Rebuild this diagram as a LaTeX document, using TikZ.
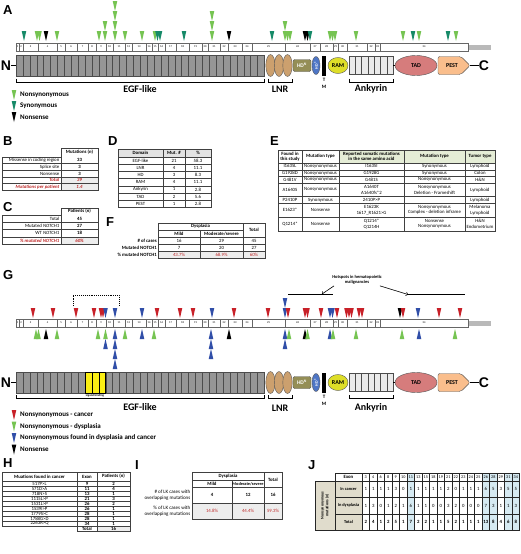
\documentclass[tikz,border=0pt]{standalone}
\usepackage{fontspec}
\setmainfont{Carlito}
\newfontfamily\arialfont{Liberation Sans}

% mutation classes
\definecolor{nsyngreen}{RGB}{118,196,82}
\definecolor{synteal}{RGB}{22,138,104}
\definecolor{cancred}{RGB}{200,32,40}
\definecolor{bothblue}{RGB}{48,78,168}
% protein domains
\definecolor{egfgray}{RGB}{150,150,150}
\definecolor{lnrtan}{RGB}{204,160,110}
\definecolor{hdnolive}{RGB}{148,142,86}
\definecolor{hdcblue}{RGB}{78,118,198}
\definecolor{ramyellow}{RGB}{222,222,40}
\definecolor{tadpink}{RGB}{214,124,124}
\definecolor{pestorange}{RGB}{250,190,140}
\definecolor{ankgray}{RGB}{234,234,234}
\definecolor{ligyellow}{RGB}{250,238,20}
% tables
\definecolor{redtxt}{RGB}{190,40,40}
\definecolor{hdrgreen}{RGB}{229,237,214}
\definecolor{hdrbeige}{RGB}{224,220,204}
\definecolor{colblue}{RGB}{214,234,242}

\tikzset{
  panel/.style={font=\arialfont\bfseries\fontsize{13}{13}\selectfont, inner sep=0pt, anchor=west},
  endlab/.style={font=\arialfont\bfseries\fontsize{14}{14}\selectfont, inner sep=0pt},
  domlab/.style={font=\bfseries\fontsize{10}{10}\selectfont, inner sep=0pt},
  inlab/.style={font=\bfseries\fontsize{6}{6}\selectfont, inner sep=0pt},
  legtxt/.style={font=\bfseries\fontsize{7}{7}\selectfont, inner sep=0pt, anchor=west},
  exonlab/.style={font=\fontsize{2.8}{3}\selectfont, inner sep=0pt},
  tabtxt/.style={font=\fontsize{4.8}{5.4}\selectfont, inner sep=0pt},
  tabbold/.style={font=\bfseries\fontsize{4.8}{5.4}\selectfont, inner sep=0pt},
  tabred/.style={font=\bfseries\itshape\fontsize{4.8}{5.4}\selectfont, inner sep=0pt, text=redtxt},
  tabline/.style={draw=black!75, line width=0.4pt},
  jline/.style={draw=black!85, line width=0.6pt},
  domspan/.style={line width=0.5pt},
}

% mutation marks: x, tip of first mark, level in the stack, colour
\newcommand{\mutdown}[4]{\fill[fill=#4] ({#1-2.3},{#2-10*#3}) -- ({#1+2.3},{#2-10*#3}) -- (#1,{#2-10*#3+10}) -- cycle;}
\newcommand{\mutup}[4]{\fill[fill=#4] ({#1-2.3},{#2+10*#3}) -- ({#1+2.3},{#2+10*#3}) -- (#1,{#2+10*#3-10}) -- cycle;}

% exon map, top edge at y=0
\newcommand{\exonbar}[1]{%
  \fill[gray!55] (468,2) rectangle (491,6.5);
  \foreach \a/\b/\n in {16/19/1, 19/23/2, 23/38/3, 38/57/4, 57/65/5, 65/77/6, 77/88/7,
      88/96/8, 96/106/9, 106/113/10, 113/125/11, 125/132/12, 132/146/13, 146/152/14,
      152/158/15, 158/165/16, 165/176/17, 176/189/18, 189/202/19, 202/208/20,
      208/220/21, 220/228/22, 228/242/23, 242/252/24, 252/285/25, 285/310/26,
      310/320/27, 320/333/28, 333/338/29, 338/347/30, 347/367/31, 367/375/32,
      375/380/33, 380/468/34} {
    \draw[draw=black!60, line width=0.35pt, fill=white] (\a,0) rectangle (\b,8);
    \node[exonlab] (#1ex\n) at ({(\a+\b)/2},4) {\n};
  }%
}

% NOTCH1 protein, top edge at y=0
\newcommand{\domainrow}[1]{%
  % N-terminal end
  \node[endlab] (#1nterm) at (6,10.5) {N};
  \draw[line width=0.9pt] (#1nterm.east) -- (16,10.5);
  % EGF-like repeats
  \foreach \i in {0,...,35}
    \draw[fill=egfgray, draw=black!70, line width=0.35pt] ({16+6.9*\i},0) rectangle ({16+6.9*(\i+1)},21);
  % LNR repeats
  \foreach \cx in {270.5,279,287.5}
    \draw[fill=lnrtan, draw=black!65, line width=0.4pt] (\cx,10.5) ellipse (4.7 and 11);
  % heterodimerization domains and TM
  \node[fill=hdnolive, draw=black!65, rounded corners=1.5pt, minimum width=18pt, minimum height=12pt,
        inner sep=0pt, font=\bfseries\fontsize{5.5}{5.5}\selectfont, text=white] (#1hdn) at (302,10.5) {HD\textsuperscript{N}};
  \draw[fill=hdcblue, draw=black!65] (316,10.5) ellipse (4 and 9);
  \node[rotate=90, inner sep=0pt, font=\bfseries\fontsize{4}{4}\selectfont, text=white] (#1hdc) at (316,10.5) {HD\textsuperscript{C}};
  \fill (322,0.5) rectangle (326,20.5);
  % RAM
  \draw[fill=ramyellow, draw=black!65] (338,10.5) ellipse (10 and 8);
  \node[inlab] (#1ram) at (338,10.5) {RAM};
  % ankyrin repeats
  \foreach \i in {0,...,6}
    \draw[fill=ankgray, draw=black!70, line width=0.35pt] ({349+6.3*\i},1.5) rectangle ({349+6.3*(\i+1)},19.5);
  \draw[line width=0.6pt] (393.1,10.5) -- (395,10.5);
  % TAD and PEST
  \draw[fill=tadpink, draw=black!65] (416,10.5) ellipse (21 and 10);
  \node[inlab] (#1tad) at (416,10.5) {TAD};
  \draw[fill=pestorange, draw=black!65, rounded corners=2pt] (438,1.5) -- (461,1.5) -- (470,10.5) -- (461,19.5) -- (438,19.5) -- cycle;
  \node[inlab] (#1pest) at (452,10.5) {PEST};
  % C-terminal end
  \node[endlab] (#1cterm) at (484,10.5) {C};
  \draw[line width=0.9pt] (470,10.5) -- (#1cterm.west);
}

\begin{document}
\begin{tikzpicture}[x=1pt, y=-1pt]
  \useasboundingbox (0,0) rectangle (520,554);
  \fill[white] (0,0) rectangle (520,554);

  % ================= Panel A =================
  \node[panel] (la) at (3,10) {A};
  \foreach \x/\l/\c in {24/1/synteal, 37/1/nsyngreen, 39.5/1/nsyngreen, 46/1/black, 57/1/nsyngreen,
      99/1/nsyngreen, 105/1/nsyngreen, 105/2/nsyngreen, 115/1/nsyngreen, 115/2/nsyngreen,
      115/3/nsyngreen, 115/4/nsyngreen, 125/1/nsyngreen, 142/1/nsyngreen, 155/1/nsyngreen,
      157.5/1/synteal, 160/1/synteal, 184/1/synteal, 212/1/nsyngreen, 212/2/nsyngreen,
      212/3/nsyngreen, 229/1/black, 272/1/synteal, 285/1/nsyngreen, 285/2/nsyngreen,
      287.5/1/nsyngreen, 290/1/nsyngreen, 305/1/black, 307.5/1/black, 310/1/synteal,
      330/1/nsyngreen, 332.5/1/nsyngreen, 335/1/nsyngreen, 356/1/nsyngreen, 403/1/nsyngreen,
      413/1/synteal, 419/1/nsyngreen, 448/1/synteal, 456/1/nsyngreen}
    {\mutdown{\x}{41}{\l}{\c}}

  \begin{scope}[shift={(0,43)}]
    \exonbar{a}
  \end{scope}
  \begin{scope}[shift={(0,55)}]
    \domainrow{a}
  \end{scope}

  % Domain spans.
  \draw[domspan] (16,78.5) -- (16,82) -- (264,82) -- (264,78.5);
  \draw[domspan] (268,78.5) -- (268,82) -- (292,82) -- (292,78.5);
  \draw[domspan] (349,78.5) -- (349,82) -- (393,82) -- (393,78.5);
  \node[domlab] (aegf) at (140,89) {EGF-like};
  \node[domlab] (alnr) at (280,89) {LNR};
  \node[domlab] (aank) at (371,89) {Ankyrin};
  \node[inlab, align=center, font=\bfseries\fontsize{5}{6.5}\selectfont] (atm) at (324,83.5) {T\\M};

  % Legend.
  \mutdown{14}{100}{1}{nsyngreen}
  \mutdown{14}{111}{1}{synteal}
  \mutdown{14}{122}{1}{black}
  \node[legtxt] (alg1) at (20,95) {Nonsynonymous};
  \node[legtxt] (alg2) at (20,106) {Synonymous};
  \node[legtxt] (alg3) at (20,117) {Nonsense};

  % ================= Panel B =================
  \node[panel] (lb) at (3,141) {B};
  \fill[gray!14] (61,176.8) rectangle (98,190.2);
  \draw[tabline] (61,148) rectangle (98,190.2);
  \draw[tabline] (2,157) rectangle (61,190.2);
  \foreach \y in {163.6,170.2,176.8,183.4} \draw[tabline] (2,\y) -- (98,\y);
  \node[tabbold] (bhead) at (79.5,152.5) {Mutations (\textit{n})};
  \foreach \lab/\val [count=\i] in {Missense in coding region/33, Splice site/3, Nonsense/3} {
    \node[tabtxt, anchor=east] (blab\i) at (59.5,{153.7+6.6*\i}) {\lab};
    \node[tabbold] (bval\i) at (79.5,{153.7+6.6*\i}) {\val};
  }
  \node[tabred, anchor=east] (blab4) at (59.5,180.1) {Total};
  \node[tabred] (bval4) at (79.5,180.1) {39};
  \node[tabred, anchor=east] (blab5) at (59.5,186.8) {Mutations per patient};
  \node[tabred] (bval5) at (79.5,186.8) {1.4};

  % ================= Panel C =================
  \node[panel] (lc) at (3,207) {C};
  \fill[gray!14] (61,236.9) rectangle (98,244.2);
  \draw[tabline] (61,208) rectangle (98,244.2);
  \draw[tabline] (2,215) rectangle (61,244.2);
  \foreach \y in {222.3,229.6,236.9} \draw[tabline] (2,\y) -- (98,\y);
  \node[tabbold] (chead) at (79.5,211.5) {Patients (\textit{n})};
  \node[tabtxt, anchor=east] (clab1) at (59.5,218.65) {Total};
  \node[tabbold] (cval1) at (79.5,218.65) {45};
  \node[tabtxt, anchor=east] (clab2) at (59.5,225.95) {Mutated \textit{NOTCH1}};
  \node[tabbold] (cval2) at (79.5,225.95) {27};
  \node[tabtxt, anchor=east] (clab3) at (59.5,233.25) {WT \textit{NOTCH1}};
  \node[tabbold] (cval3) at (79.5,233.25) {18};
  \node[tabred, anchor=east] (clab4) at (59.5,240.55) {\% mutated NOTCH1};
  \node[tabred] (cval4) at (79.5,240.55) {60\%};

  % ================= Panel D =================
  \node[panel] (ld) at (108,141) {D};
  \fill[gray!22] (118,149) rectangle (211,157);
  \draw[tabline] (118,149) rectangle (211,207.4);
  \foreach \k in {0,...,6} \draw[tabline] (118,{157+7.2*\k}) -- (211,{157+7.2*\k});
  \draw[tabline] (163,149) -- (163,207.4);
  \draw[tabline] (185,149) -- (185,207.4);
  \node[tabbold] (dh1) at (140.5,153) {Domain};
  \node[tabbold] (dh2) at (174,153) {Mut. \#};
  \node[tabbold] (dh3) at (198,153) {\%};
  \foreach \dom/\nm/\pc [count=\i] in {EGF-like/21/58.3, LNR/4/11.1, HD/3/8.3, RAM/4/11.1,
      Ankyrin/1/2.8, TAD/2/5.6, PEST/1/2.8} {
    \node[tabtxt] (ddom\i) at (140.5,{153.4+7.2*\i}) {\dom};
    \node[tabtxt] (dnum\i) at (174,{153.4+7.2*\i}) {\nm};
    \node[tabtxt] (dpc\i) at (198,{153.4+7.2*\i}) {\pc};
  }

  % ================= Panel E =================
  \node[panel] (le) at (270,141) {E};
  \fill[hdrgreen] (339,150) rectangle (495,163);
  \draw[tabline] (278,150) rectangle (495,231);
  \foreach \y in {163,169.7,176.4,183.1,196.5,203.2,217} \draw[tabline] (278,\y) -- (495,\y);
  \foreach \x in {302,339,404,465} \draw[tabline] (\x,150) -- (\x,231);
  \node[tabbold, align=center] (eh1) at (290,156.5) {Found in\\this study};
  \node[tabbold] (eh2) at (320.5,156.5) {Mutation type};
  \node[tabbold, align=center] (eh3) at (371.5,156.5) {Reported somatic mutations\\in the same amino acid};
  \node[tabbold] (eh4) at (434.5,156.5) {Mutation type};
  \node[tabbold] (eh5) at (480,156.5) {Tumor type};
  \foreach \fa/\ma/\ra/\mb/\ta/\yc [count=\i] in {I1635L/Nonsynonymous/I1635I/Synonymous/Lymphoid/166.35,
      G1928D/Nonsynonymous/G1928G/Synonymous/Colon/173.05,
      G481V/Nonsynonymous/G481S/Nonsynonymous/H\&N/179.75} {
    \node[tabtxt] (ea\i) at (290,\yc) {\fa};
    \node[tabtxt] (eb\i) at (320.5,\yc) {\ma};
    \node[tabtxt] (ec\i) at (371.5,\yc) {\ra};
    \node[tabtxt] (ed\i) at (434.5,\yc) {\mb};
    \node[tabtxt] (ee\i) at (480,\yc) {\ta};
  }
  \node[tabtxt] (ea4) at (290,189.8) {A1640S};
  \node[tabtxt] (eb4) at (320.5,189.8) {Nonsynonymous};
  \node[tabtxt, align=center] (ec4) at (371.5,189.8) {A1640T\\A1640fs*2};
  \node[tabtxt, align=center] (ed4) at (434.5,189.8) {Nonsynonymous\\Deletion - Frameshift};
  \node[tabtxt] (ee4) at (480,189.8) {Lymphoid};
  \node[tabtxt] (ea5) at (290,199.85) {P2410P};
  \node[tabtxt] (eb5) at (320.5,199.85) {Synonymous};
  \node[tabtxt] (ec5) at (371.5,199.85) {2410P>P};
  \node[tabtxt] (ee5) at (480,199.85) {Lymphoid};
  \node[tabtxt] (ea6) at (290,210.1) {E1623*};
  \node[tabtxt] (eb6) at (320.5,210.1) {Nonsense};
  \node[tabtxt, align=center] (ec6) at (371.5,210.1) {E1623K\\1617\_R1621>G};
  \node[tabtxt, align=center] (ed6) at (434.5,210.1) {Nonsynonymous\\Complex - deletion inframe};
  \node[tabtxt, align=center] (ee6) at (480,210.1) {Melanoma\\Lymphoid};
  \node[tabtxt] (ea7) at (290,224) {Q1214*};
  \node[tabtxt] (eb7) at (320.5,224) {Nonsense};
  \node[tabtxt, align=center] (ec7) at (371.5,224) {Q1214*\\Q1214H};
  \node[tabtxt, align=center] (ed7) at (434.5,224) {Nonsense\\Nonsynonymous};
  \node[tabtxt, align=center] (ee7) at (480,224) {H\&N\\Endometrium};

  % ================= Panel F =================
  \node[panel] (lf) at (106,222) {F};
  \fill[gray!14] (158,251.5) rectangle (265,258.5);
  \draw[tabline] (158,223) rectangle (265,258.5);
  \draw[tabline] (158,230) -- (243,230);
  \foreach \y in {237.5,244.5,251.5} \draw[tabline] (158,\y) -- (265,\y);
  \draw[tabline] (200,230) -- (200,258.5);
  \draw[tabline] (243,223) -- (243,258.5);
  \node[tabbold] (fh1) at (200.5,226.5) {Dysplasia};
  \node[tabbold] (fh2) at (179,233.8) {Mild};
  \node[tabbold] (fh3) at (221.5,233.8) {Moderate/severe};
  \node[tabbold] (fh4) at (254,230.3) {Total};
  \foreach \lab/\va/\vb/\vc [count=\i] in {\# of cases/16/29/45, Mutated NOTCH1/7/20/27} {
    \node[tabbold, anchor=east] (flab\i) at (157,{234+7*\i}) {\lab};
    \node[tabtxt] (fa\i) at (179,{234+7*\i}) {\va};
    \node[tabtxt] (fb\i) at (221.5,{234+7*\i}) {\vb};
    \node[tabtxt] (fc\i) at (254,{234+7*\i}) {\vc};
  }
  \node[tabbold, anchor=east] (flab3) at (157,255) {\% mutated NOTCH1};
  \node[tabtxt, text=redtxt] (fa3) at (179,255) {43.7\%};
  \node[tabtxt, text=redtxt] (fb3) at (221.5,255) {68.9\%};
  \node[tabtxt, text=redtxt] (fc3) at (254,255) {60\%};

  % ================= Panel G =================
  \node[panel] (lg) at (3,275) {G};
  % Ligand-binding exons.
  \draw[densely dotted, line width=0.9pt] (73,306) -- (73,295) -- (119,295) -- (119,306);
  % Hotspots.
  \node[font=\bfseries\fontsize{4.5}{5.4}\selectfont, inner sep=0pt, align=center] (hot) at (357,279.5)
    {Hotspots in hematopoietic\\malignancies};
  \coordinate (hotl) at (322,294);
  \coordinate (hotr) at (408,294.5);
  \draw[->, line width=0.6pt] ([shift={(2,1.5)}]hot.south west) -- (hotl);
  \draw[->, line width=0.6pt] ([shift={(-2,1.5)}]hot.south east) -- (hotr);
  \draw[line width=0.7pt] (288,294) -- (333,294);
  \draw[line width=0.7pt] (407,294.5) -- (465,294.5);

  % Mutations in cancer (above the exon map).
  \foreach \x/\l/\c in {33/1/cancred, 53/1/cancred, 76/1/cancred, 94/1/cancred, 101/1/cancred,
      103/1/cancred, 105.5/1/bothblue, 115/1/bothblue, 142/1/bothblue, 157/1/cancred,
      180/1/cancred, 193/1/cancred, 212/1/bothblue, 234/1/cancred, 268/1/cancred,
      285/1/bothblue, 285/2/bothblue, 288/1/cancred, 305/1/cancred, 307.5/1/cancred,
      321/1/cancred, 330/1/bothblue, 332.5/1/bothblue, 337/1/cancred, 346.5/1/cancred,
      349/1/cancred, 351.5/1/cancred, 359/1/cancred, 362/1/cancred, 400/1/black,
      403/1/cancred, 418/1/bothblue, 439/1/cancred, 460/1/cancred}
    {\mutdown{\x}{318}{\l}{\c}}
  % Mutations in dysplasia (below the exon map).
  \foreach \x/\l/\c in {36/1/nsyngreen, 38.5/1/nsyngreen, 46/1/black, 57/1/nsyngreen,
      98/1/nsyngreen, 105.5/1/nsyngreen, 105.5/2/bothblue, 115/1/bothblue, 115/2/bothblue,
      115/3/bothblue, 115/4/bothblue, 125/1/nsyngreen, 142/1/bothblue, 154/1/nsyngreen,
      211/1/bothblue, 211/2/bothblue, 211/3/bothblue, 229/1/black, 285/1/bothblue,
      285/2/bothblue, 289/1/nsyngreen, 305/1/black, 307.5/1/nsyngreen, 330/1/bothblue,
      333/1/nsyngreen, 356/1/nsyngreen, 402/1/nsyngreen, 419/1/bothblue, 455/1/nsyngreen}
    {\mutup{\x}{329}{\l}{\c}}

  \begin{scope}[shift={(0,319)}]
    \exonbar{g}
  \end{scope}
  \begin{scope}[shift={(0,372)}]
    \domainrow{g}
    \foreach \i in {10,11,12}
      \draw[fill=ligyellow, line width=0.6pt] ({16+6.9*\i},0) rectangle ({16+6.9*(\i+1)},21);
  \end{scope}

  % Domain spans.
  \draw[domspan] (16,395) -- (16,398.5) -- (264,398.5) -- (264,395);
  \draw[domspan] (268,395) -- (268,398.5) -- (292,398.5) -- (292,395);
  \draw[domspan] (349,395) -- (349,398.5) -- (393,398.5) -- (393,395);
  \node[font=\bfseries\fontsize{3}{3}\selectfont, inner sep=0pt] (glig) at (95,395.8) {Ligand binding};
  \node[domlab] (gegf) at (140,407.5) {EGF-like};
  \node[domlab] (glnr) at (280,408) {LNR};
  \node[domlab] (gank) at (371,408) {Ankyrin};
  \node[inlab, align=center, font=\bfseries\fontsize{5}{6.5}\selectfont] (gtm) at (324,400.5) {T\\M};

  % Legend.
  \mutdown{14}{420}{1}{cancred}
  \mutdown{14}{431.5}{1}{nsyngreen}
  \mutdown{14}{443}{1}{bothblue}
  \mutdown{14}{454.5}{1}{black}
  \node[legtxt] (glg1) at (20,415) {Nonsynonymous - cancer};
  \node[legtxt] (glg2) at (20,426.5) {Nonsynonymous - dysplasia};
  \node[legtxt] (glg3) at (20,438) {Nonsynonymous found in dysplasia and cancer};
  \node[legtxt] (glg4) at (20,449.5) {Nonsense};

  % ================= Panel H =================
  \node[panel] (lh) at (3,463) {H};
  \fill[gray!14] (97,526) rectangle (130,531);
  \draw[tabline] (2,472) rectangle (130,526);
  \draw[tabline] (77,526) rectangle (130,531);
  \foreach \k in {0,...,8} \draw[tabline] (2,{481+5*\k}) -- (130,{481+5*\k});
  \draw[tabline] (77,472) -- (77,531);
  \draw[tabline] (97,472) -- (97,531);
  \node[tabbold] (hh1) at (39.5,476.5) {Muations found in cancer};
  \node[tabbold] (hh2) at (87,476.5) {Exon};
  \node[tabbold] (hh3) at (113.5,476.5) {Patients (\textit{n})};
  \foreach \mu/\ex/\pt [count=\i] in {517P>L/9/2, 571D>A/11/4, 718N>S/13/1, 1115L>P/21/3,
      1531L>P/26/2, 1539I>P/26/1, 1779S>C/28/1, 1788G>D/28/1, 2263R>Q/34/1} {
    \node[tabtxt] (hmu\i) at (39.5,{478.5+5*\i}) {\mu};
    \node[tabbold] (hex\i) at (87,{478.5+5*\i}) {\ex};
    \node[tabbold] (hpt\i) at (113.5,{478.5+5*\i}) {\pt};
  }
  \node[tabbold] (htot) at (87,528.5) {Total};
  \node[tabbold] (htotn) at (113.5,528.5) {16};

  % ================= Panel I =================
  \node[panel] (li) at (135,465) {I};
  \fill[gray!14] (192,503) rectangle (282,519);
  \draw[tabline] (192,472) rectangle (282,519);
  \draw[tabline] (192,480) -- (264,480);
  \foreach \y in {487.5,503} \draw[tabline] (192,\y) -- (282,\y);
  \draw[tabline] (232,480) -- (232,519);
  \draw[tabline] (264,472) -- (264,519);
  \node[tabbold] (ih1) at (228,476) {Dysplasia};
  \node[tabbold] (ih2) at (212,483.8) {Mild};
  \node[tabbold, font=\bfseries\fontsize{4.3}{5}\selectfont] (ih3) at (248,483.8) {Moderate/severe};
  \node[tabbold] (ih4) at (273,479.8) {Total};
  \node[tabtxt, align=right, anchor=east, font=\fontsize{5}{5.6}\selectfont] (ilab1) at (190.5,495.3)
    {\# of LK cases with\\overlapping mutations};
  \node[tabtxt, align=right, anchor=east, font=\fontsize{5}{5.6}\selectfont] (ilab2) at (190.5,511)
    {\% of LK cases with\\overlapping mutations};
  \node[tabbold] (ia1) at (212,495.3) {4};
  \node[tabbold] (ib1) at (248,495.3) {12};
  \node[tabbold] (ic1) at (273,495.3) {16};
  \node[tabtxt, text=redtxt] (ia2) at (212,511) {14.8\%};
  \node[tabtxt, text=redtxt] (ib2) at (248,511) {44.4\%};
  \node[tabtxt, text=redtxt] (ic2) at (273,511) {59.3\%};

  % ================= Panel J =================
  \node[panel] (lj) at (308,465) {J};
  \fill[hdrbeige] (315,481) rectangle (362,530);
  \foreach \i in {6,16,17,19,20} \fill[colblue] ({362+7.5*\i},473) rectangle ({362+7.5*(\i+1)},530);
  \draw[jline] (335,473) rectangle (519.5,530);
  \draw[jline] (315,481) rectangle (335,530);
  \foreach \y in {481,497,514} \draw[jline] (335,\y) -- (519.5,\y);
  \draw[jline] (362,473) -- (362,530);
  \foreach \i in {1,...,20} \draw[jline] ({362+7.5*\i},473) -- ({362+7.5*\i},530);
  \node[tabbold] (jexon) at (348.5,477) {Exon};
  \node[rotate=90, align=center, inner sep=0pt, font=\bfseries\fontsize{4}{4.8}\selectfont] (jrot) at (325,505.5)
    {Nonsynonymous\\mutations (\textit{n})};
  \node[tabbold, font=\bfseries\fontsize{4.4}{5}\selectfont] (jrow1) at (348.5,489) {In cancer};
  \node[tabbold, font=\bfseries\fontsize{4.4}{5}\selectfont] (jrow2) at (348.5,505.5) {In dysplasia};
  \node[tabbold, font=\bfseries\fontsize{4.4}{5}\selectfont] (jrow3) at (348.5,522) {Total};
  \foreach \e/\ca/\da/\ta [count=\i from 0] in {3/1/1/2, 4/1/3/4, 6/1/0/1, 8/1/1/2, 9/3/2/5,
      10/0/1/1, 11/1/6/7, 13/1/1/2, 15/1/1/2, 18/1/0/1, 19/1/0/1, 21/2/3/5, 22/0/2/2,
      23/1/0/1, 24/1/0/1, 25/1/0/1, 26/6/7/13, 28/5/3/8, 29/3/1/4, 31/5/1/6, 34/5/3/8} {
    \node[tabtxt, font=\fontsize{4.2}{5}\selectfont] (jex\i) at ({365.75+7.5*\i},477) {\e};
    \node[tabtxt] (jca\i) at ({365.75+7.5*\i},489) {\ca};
    \node[tabtxt] (jda\i) at ({365.75+7.5*\i},505.5) {\da};
    \node[tabbold] (jta\i) at ({365.75+7.5*\i},522) {\ta};
  }
\end{tikzpicture}
\end{document}
